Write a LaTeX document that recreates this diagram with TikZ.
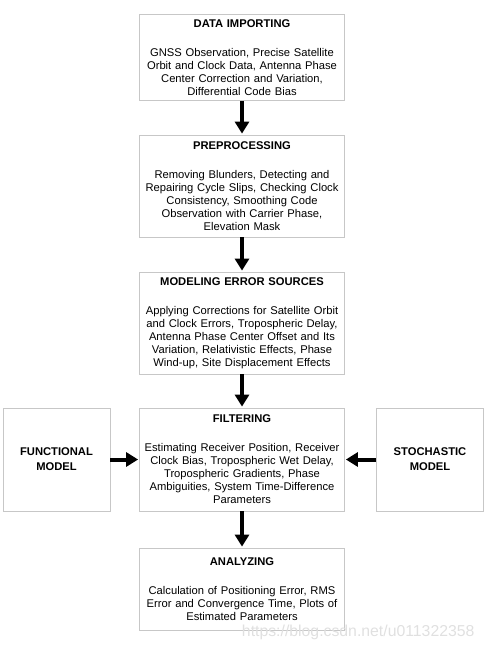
\documentclass[tikz,border=0pt]{standalone}
\usepackage{fontspec}
\setmainfont{Liberation Sans}
\usetikzlibrary{arrows.meta}
\begin{document}
\begin{tikzpicture}[x=1pt,y=-1pt,
  box/.style={draw=black!22,line width=0.8pt,fill=white,align=center,font=\fontsize{11.2}{13}\selectfont,inner sep=0pt},
  mainbox/.style={box,minimum width=205pt,text width=203pt},
  sidebox/.style={box,minimum width=107pt,minimum height=103pt,text width=104pt,font=\fontsize{11.2}{15}\selectfont\bfseries},
  flow/.style={-{Triangle[width=14pt,length=12pt]},line width=4pt,black,shorten >=1pt}
]
\useasboundingbox (0,0) rectangle (487,650);
\node[mainbox,minimum height=86pt] (imp) at (242,57.5) {\textbf{DATA IMPORTING}\\[16pt]GNSS Observation, Precise Satellite\\Orbit and Clock Data, Antenna Phase\\Center Correction and Variation,\\Differential Code Bias};
\node[mainbox,minimum height=102pt] (pre) at (242,186) {\textbf{PREPROCESSING}\\[16pt]Removing Blunders, Detecting and\\Repairing Cycle Slips, Checking Clock\\Consistency, Smoothing Code\\Observation with Carrier Phase,\\Elevation Mask};
\node[mainbox,minimum height=102pt] (mod) at (242,323) {\textbf{MODELING ERROR SOURCES}\\[16pt]Applying Corrections for Satellite Orbit\\and Clock Errors, Tropospheric Delay,\\Antenna Phase Center Offset and Its\\Variation, Relativistic Effects, Phase\\Wind-up, Site Displacement Effects};
\node[mainbox,minimum height=103pt] (fil) at (242,459.5) {\textbf{FILTERING}\\[16pt]Estimating Receiver Position, Receiver\\Clock Bias, Tropospheric Wet Delay,\\Tropospheric Gradients, Phase\\Ambiguities, System Time-Difference\\Parameters};
\node[mainbox,minimum height=82pt] (ana) at (242,589) {\textbf{ANALYZING}\\[16pt]Calculation of Positioning Error, RMS\\Error and Convergence Time, Plots of\\Estimated Parameters};
\node[sidebox] (fun) at (56.5,459.5) {FUNCTIONAL\\MODEL};
\node[sidebox] (sto) at (430,459.5) {STOCHASTIC\\MODEL};
\draw[flow] (imp.south) -- (pre.north);
\draw[flow] (pre.south) -- (mod.north);
\draw[flow] (mod.south) -- (fil.north);
\draw[flow] (fil.south) -- (ana.north);
\draw[flow] (fun.east) -- (fil.west);
\draw[flow] (sto.west) -- (fil.east);
\node[text=black!12,font=\fontsize{15.8}{15.8}\selectfont,anchor=east] (wm) at (478,632) {https://blog.csdn.net/u011322358};
\end{tikzpicture}
\end{document}
